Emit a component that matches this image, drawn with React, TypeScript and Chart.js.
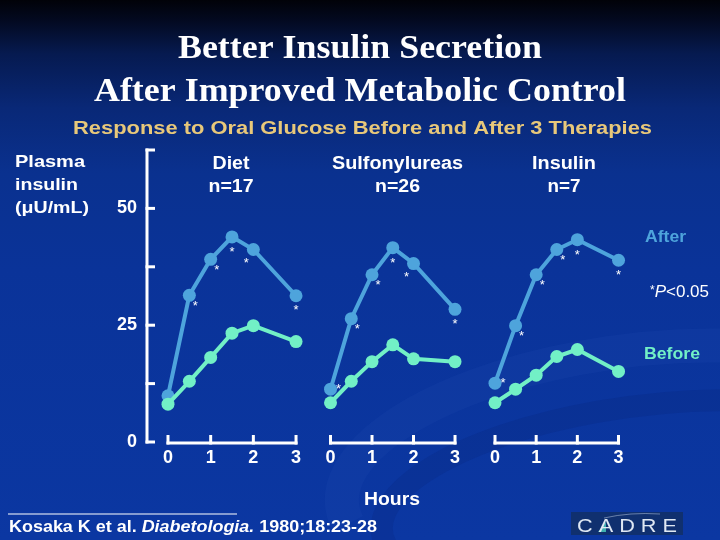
import React, { useEffect, useRef } from 'react';
import { Chart, registerables } from 'chart.js';

Chart.register(...registerables);

// ---------- data ----------
const HOURS = [0, 0.5, 1, 1.5, 2, 3];
const PANEL_NAMES = ['Diet', 'Sulfonylureas', 'Insulin'];
const PANEL_N = ['n=17', 'n=26', 'n=7'];
const DIET_BEFORE = [8.1, 13.0, 18.1, 23.3, 24.9, 21.5];
const DIET_AFTER = [9.9, 31.4, 39.1, 43.9, 41.2, 31.3];
const SULF_BEFORE = [8.4, 13.0, 17.2, 20.8, 17.8, 17.2];
const SULF_AFTER = [11.3, 26.4, 35.8, 41.6, 38.2, 28.4];
const INS_BEFORE = [8.4, 11.3, 14.3, 18.3, 19.8, 15.1];
const INS_AFTER = [12.6, 24.9, 35.8, 41.2, 43.3, 38.9];
const DIET_SIG = [false, true, true, true, true, true];
const SULF_SIG = [true, true, true, true, true, true];
const INS_SIG = [true, true, true, true, true, true];
const X_TICKS = [0, 1, 2, 3];
const Y_TICKS = [0, 12.5, 25, 37.5, 50, 62.5];
const Y_LABELS = [0, 25, 50];

const AFTER = '#4ea4dc';
const BEFORE = '#72f0c6';
const WHITE = '#ffffff';
const SANS = "'Liberation Sans', Arial, sans-serif";
const NARROW = "'Liberation Sans Narrow', 'Liberation Sans', Arial, sans-serif";
const SERIF = "'Liberation Serif', 'Times New Roman', serif";
const X_AXES = ['xDiet', 'xSulf', 'xIns'];

function fitText(ctx: any, text: string, x: number, y: number, font: string, color: string, width: number, align: string = 'left') {
  ctx.save();
  ctx.font = font;
  ctx.fillStyle = color;
  ctx.textBaseline = 'alphabetic';
  ctx.textAlign = 'left';
  const w = ctx.measureText(text).width;
  const sx = width / w;
  const left = align === 'center' ? x - width / 2 : x;
  ctx.translate(left, y);
  ctx.scale(sx, 1);
  ctx.fillText(text, 0, 0);
  ctx.restore();
}

function fitRich(ctx: any, parts: { t: string; font: string; dy?: number }[], x: number, y: number, color: string, width: number) {
  ctx.save();
  ctx.fillStyle = color;
  ctx.textBaseline = 'alphabetic';
  ctx.textAlign = 'left';
  let total = 0;
  const ws = parts.map((p) => {
    ctx.font = p.font;
    const w = ctx.measureText(p.t).width;
    total += w;
    return w;
  });
  const sx = width / total;
  ctx.translate(x, y);
  ctx.scale(sx, 1);
  let cx = 0;
  parts.forEach((p, i) => {
    ctx.font = p.font;
    ctx.fillText(p.t, cx, p.dy || 0);
    cx += ws[i];
  });
  ctx.restore();
}

const bgPlugin = {
  id: 'bgPlugin',
  beforeDraw(chart: any) {
    const { ctx, width, height } = chart;
    ctx.save();
    const g = ctx.createLinearGradient(0, 0, 0, height);
    g.addColorStop(0, '#010208');
    g.addColorStop(0.04, '#030a22');
    g.addColorStop(0.1, '#061a50');
    g.addColorStop(0.2, '#092877');
    g.addColorStop(0.32, '#0a318f');
    g.addColorStop(0.5, '#0a3399');
    g.addColorStop(1, '#0b37a2');
    ctx.fillStyle = g;
    ctx.fillRect(0, 0, width, height);
    // faint swoosh
    ctx.strokeStyle = 'rgba(70,120,215,0.07)';
    ctx.lineWidth = 34;
    ctx.beginPath();
    ctx.ellipse(640, 470, 300, 120, -0.12, Math.PI * 0.95, Math.PI * 1.85);
    ctx.stroke();
    ctx.strokeStyle = 'rgba(5,25,90,0.13)';
    ctx.lineWidth = 22;
    ctx.beginPath();
    ctx.ellipse(650, 500, 270, 95, -0.12, Math.PI * 0.95, Math.PI * 1.9);
    ctx.stroke();
    ctx.restore();
  },
};

const decoPlugin = {
  id: 'decoPlugin',
  afterDraw(chart: any) {
    const { ctx, chartArea } = chart;
    const y = chart.scales.y;
    // titles
    fitText(ctx, 'Better Insulin Secretion', 360, 58, `bold 34px ${SERIF}`, WHITE, 364, 'center');
    fitText(ctx, 'After Improved Metabolic Control', 360, 101, `bold 34px ${SERIF}`, WHITE, 532, 'center');
    fitText(ctx, 'Response to Oral Glucose Before and After 3 Therapies', 362.5, 134, `bold 18px ${SANS}`, '#e8c87a', 579, 'center');

    // y-axis title
    fitText(ctx, 'Plasma', 15, 167, `bold 17px ${SANS}`, WHITE, 70);
    fitText(ctx, 'insulin', 15, 190, `bold 17px ${SANS}`, WHITE, 63);
    fitText(ctx, '(\u03bcU/mL)', 15, 213, `bold 17px ${SANS}`, WHITE, 74);

    // y axis line with inward ticks
    const ax = chartArea.left;
    ctx.save();
    ctx.strokeStyle = WHITE;
    ctx.lineWidth = 3;
    ctx.lineCap = 'butt';
    ctx.beginPath();
    ctx.moveTo(ax, y.getPixelForValue(Y_TICKS[Y_TICKS.length - 1]) - 1.5);
    ctx.lineTo(ax, y.getPixelForValue(0) + 1.5);
    ctx.stroke();
    Y_TICKS.forEach((v) => {
      const py = y.getPixelForValue(v);
      ctx.beginPath();
      ctx.moveTo(ax - 1.5, py);
      ctx.lineTo(ax + 8, py);
      ctx.stroke();
    });
    ctx.restore();

    // panel x axes
    const baseY = y.getPixelForValue(0) + 1;
    X_AXES.forEach((id) => {
      const xs = chart.scales[id];
      const x0 = xs.getPixelForValue(X_TICKS[0]);
      const x1 = xs.getPixelForValue(X_TICKS[X_TICKS.length - 1]);
      ctx.save();
      ctx.strokeStyle = WHITE;
      ctx.lineWidth = 3;
      ctx.beginPath();
      ctx.moveTo(x0 - 1.5, baseY);
      ctx.lineTo(x1 + 1.5, baseY);
      ctx.stroke();
      X_TICKS.forEach((t) => {
        const px = xs.getPixelForValue(t);
        ctx.beginPath();
        ctx.moveTo(px, baseY + 1.5);
        ctx.lineTo(px, baseY - 8);
        ctx.stroke();
        ctx.font = `bold 18px ${NARROW}`;
        ctx.fillStyle = WHITE;
        ctx.textAlign = 'center';
        ctx.textBaseline = 'alphabetic';
        ctx.fillText(String(t), px, 463);
      });
      ctx.restore();
    });

    // panel headers
    const hdr = [
      { cx: 231, w1: 37, w2: 45 },
      { cx: 397.5, w1: 131, w2: 45 },
      { cx: 564, w1: 64, w2: 33 },
    ];
    PANEL_NAMES.forEach((name, k) => {
      fitText(ctx, name, hdr[k].cx, 169, `bold 18px ${SANS}`, WHITE, hdr[k].w1, 'center');
      fitText(ctx, PANEL_N[k], hdr[k].cx, 192, `bold 18px ${SANS}`, WHITE, hdr[k].w2, 'center');
    });

    // significance asterisks
    chart.data.datasets.forEach((d: any, i: number) => {
      if (!d.sig) return;
      const meta = chart.getDatasetMeta(i);
      const vals = d.data.map((p: any) => p.y);
      const n = vals.length;
      meta.data.forEach((pt: any, j: number) => {
        if (!d.sig[j]) return;
        let dx = 0;
        let dy = 11;
        if (j === 0) {
          dx = 8;
          dy = -4;
        } else if (j === n - 1) {
          dx = 0;
          dy = 11;
        } else if (vals[j + 1] > vals[j]) {
          dx = 6;
          dy = 7;
        } else if (vals[j - 1] > vals[j]) {
          dx = -7;
          dy = 10;
        } else {
          dx = 0;
          dy = 12;
        }
        ctx.save();
        ctx.font = `13px ${SANS}`;
        ctx.fillStyle = WHITE;
        ctx.textAlign = 'center';
        ctx.textBaseline = 'alphabetic';
        ctx.fillText('*', pt.x + dx, pt.y + dy + 7.5);
        ctx.restore();
      });
    });

    // legend labels
    fitText(ctx, 'After', 645, 242, `bold 17px ${SANS}`, AFTER, 41);
    fitText(ctx, 'Before', 644, 359, `bold 17px ${SANS}`, BEFORE, 56);
    fitRich(
      ctx,
      [
        { t: '*', font: `12px ${SANS}`, dy: -3 },
        { t: 'P', font: `italic 17px ${SANS}` },
        { t: '<0.05', font: `17px ${SANS}` },
      ],
      650,
      297,
      WHITE,
      59
    );

    // axis label and citation
    fitText(ctx, 'Hours', 392, 505, `bold 18px ${SANS}`, WHITE, 56, 'center');
    ctx.save();
    ctx.strokeStyle = WHITE;
    ctx.lineWidth = 1.2;
    ctx.beginPath();
    ctx.moveTo(8, 514);
    ctx.lineTo(237, 514);
    ctx.stroke();
    ctx.restore();
    fitRich(
      ctx,
      [
        { t: 'Kosaka K et al. ', font: `bold 17px ${SANS}` },
        { t: 'Diabetologia.', font: `italic bold 17px ${SANS}` },
        { t: ' 1980;18:23-28', font: `bold 17px ${SANS}` },
      ],
      9,
      532,
      WHITE,
      368
    );

    // logo
    ctx.save();
    ctx.fillStyle = '#10306f';
    ctx.fillRect(571, 512, 112, 23);
    ctx.strokeStyle = 'rgba(200,215,235,0.6)';
    ctx.lineWidth = 0.8;
    ctx.beginPath();
    ctx.moveTo(604, 518);
    ctx.quadraticCurveTo(630, 512, 660, 514);
    ctx.stroke();
    ctx.fillStyle = '#3fb0b0';
    ctx.beginPath();
    ctx.moveTo(598, 532);
    ctx.lineTo(606, 532);
    ctx.lineTo(606, 522);
    ctx.closePath();
    ctx.fill();
    ctx.restore();
    fitText(ctx, 'C A D R E', 627, 532, `18px ${SANS}`, '#dfe8f3', 100, 'center');
  },
};

export default function App() {
  const ref = useRef<HTMLCanvasElement>(null);

  useEffect(() => {
    const canvas = ref.current;
    if (!canvas) return;
    const mk = (vals: number[]) => HOURS.map((h, i) => ({ x: h, y: vals[i] }));
    const ds = (label: string, vals: number[], color: string, xAxisID: string, sig?: boolean[]) => ({
      label,
      data: mk(vals),
      xAxisID,
      yAxisID: 'y',
      borderColor: color,
      backgroundColor: color,
      pointBackgroundColor: color,
      pointBorderColor: color,
      pointRadius: 6.5,
      pointBorderWidth: 0,
      borderWidth: 4,
      tension: 0,
      clip: false,
      sig,
    });
    const tickFont = { family: NARROW, size: 18, weight: 'bold' as const };
    const chart = new Chart(canvas, {
      type: 'line',
      data: {
        datasets: [
          ds('Diet Before', DIET_BEFORE, BEFORE, 'xDiet'),
          ds('Diet After', DIET_AFTER, AFTER, 'xDiet', DIET_SIG),
          ds('Sulfonylureas Before', SULF_BEFORE, BEFORE, 'xSulf'),
          ds('Sulfonylureas After', SULF_AFTER, AFTER, 'xSulf', SULF_SIG),
          ds('Insulin Before', INS_BEFORE, BEFORE, 'xIns'),
          ds('Insulin After', INS_AFTER, AFTER, 'xIns', INS_SIG),
        ] as any,
      },
      options: {
        responsive: false,
        animation: false,
        devicePixelRatio: 1,
        layout: { padding: { left: 107, right: 10, top: 150, bottom: 98 } },
        plugins: {
          legend: { display: false },
          tooltip: { enabled: false },
          title: { display: false },
        },
        scales: {
          xDiet: { type: 'linear', position: 'bottom', display: false, min: -0.492, max: 12.7 },
          xSulf: { type: 'linear', position: 'bottom', display: false, min: -4.422, max: 9.144 },
          xIns: { type: 'linear', position: 'bottom', display: false, min: -8.453, max: 5.222 },
          y: {
            type: 'linear',
            position: 'left',
            min: 0,
            max: 62.5,
            afterFit: (s: any) => {
              s.width = 40;
            },
            afterBuildTicks: (s: any) => {
              s.ticks = Y_TICKS.map((v) => ({ value: v }));
            },
            grid: { display: false, drawTicks: false },
            border: { display: false },
            ticks: {
              autoSkip: false,
              padding: 10,
              color: WHITE,
              font: tickFont,
              callback: (v: any) => (Y_LABELS.includes(Number(v)) ? String(v) : ''),
            },
          },
        } as any,
      },
      plugins: [bgPlugin, decoPlugin],
    });
    return () => chart.destroy();
  }, []);

  return (
    <div style={{ position: 'fixed', left: 0, top: 0, width: 720, height: 540 }}>
      <canvas ref={ref} width={720} height={540} style={{ display: 'block' }} />
    </div>
  );
}
